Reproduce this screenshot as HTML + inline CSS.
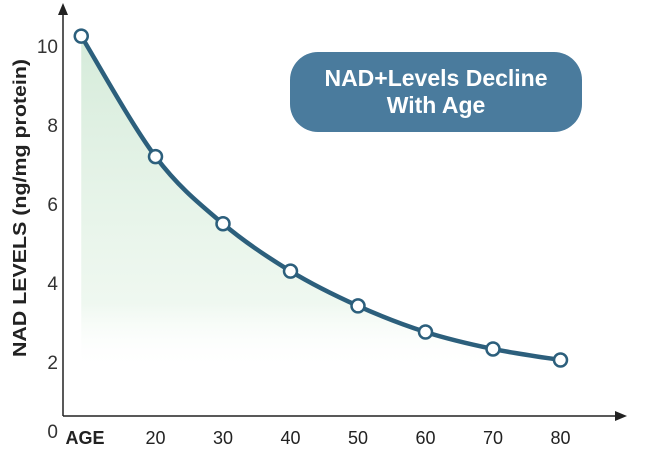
<!DOCTYPE html>
<html><head><meta charset="utf-8"><style>
body{margin:0;background:#fff;}
svg{display:block;font-family:"Liberation Sans",sans-serif;}
</style></head><body>
<svg id="c" width="650" height="458" viewBox="0 0 650 458">
<defs>
<linearGradient id="g" x1="0" y1="0" x2="0" y2="1">
<stop offset="0" stop-color="#d3ead8" stop-opacity="0.95"/>
<stop offset="0.8" stop-color="#e4f3e6" stop-opacity="0.6"/>
<stop offset="1" stop-color="#ffffff" stop-opacity="0"/>
</linearGradient>
</defs>
<path id="area" fill="url(#g)"/>
<line x1="63" y1="416" x2="63" y2="12" stroke="#222" stroke-width="1.5"/>
<polygon points="63,3 58,15 68,15" fill="#222"/>
<line x1="63" y1="416" x2="618" y2="416" stroke="#222" stroke-width="1.5"/>
<polygon points="627,416 615,411 615,421" fill="#222"/>
<text x="26" y="208" transform="rotate(-90 26 208)" text-anchor="middle" font-size="18" font-weight="bold" fill="#222" textLength="298" lengthAdjust="spacingAndGlyphs">NAD LEVELS (ng/mg protein)</text>
<g id="yt"></g><g id="xt"></g>
<path id="line" fill="none" stroke="#2c5f7c" stroke-width="4.5"/>
<g id="pts"></g>
<rect x="290" y="52" width="292" height="80" rx="28" fill="#4a7b9d"/>
<text x="436" y="86" text-anchor="middle" font-size="23" font-weight="bold" fill="#fff">NAD+Levels Decline</text>
<text x="436" y="113" text-anchor="middle" font-size="23" font-weight="bold" fill="#fff">With Age</text>
</svg>
<script>
const ages=[9,20,30,40,50,60,70,80];
const nadLevels=[10.25,7.2,5.5,4.3,3.42,2.76,2.33,2.05];
const yTicks=[0,2,4,6,8,10];
const xTickLabels=["AGE","20","30","40","50","60","70","80"];
const xTickAges=[10,20,30,40,50,60,70,80];
const NS="http://www.w3.org/2000/svg";
function xs(a){return 88+(a-10)*6.75;}
function ys(v){return 441-39.5*v;}
const yt=document.getElementById('yt');
yTicks.forEach(v=>{
 const t=document.createElementNS(NS,'text');
 
 
 t.setAttribute('x',58);t.setAttribute('y',v===0?438:ys(v)+7);
 t.setAttribute('text-anchor','end');t.setAttribute('font-size','19');t.setAttribute('fill','#333');
 t.textContent=v;yt.appendChild(t);
});
const xt=document.getElementById('xt');
xTickLabels.forEach((l,i)=>{
 const t=document.createElementNS(NS,'text');
 
 
 const x=i===0?85:xs(xTickAges[i]);
 t.setAttribute('x',x);t.setAttribute('y',444);
 t.setAttribute('text-anchor','middle');t.setAttribute('font-size','18');
 if(i===0)t.setAttribute('font-weight','bold');
 t.setAttribute('fill','#222');t.textContent=l;xt.appendChild(t);
});
const P=ages.map((a,i)=>[xs(a),ys(nadLevels[i])]);
let d='M'+P[0][0]+','+P[0][1];
for(let i=0;i<P.length-1;i++){
 const p0=P[i-1]||P[i],p1=P[i],p2=P[i+1],p3=P[i+2]||P[i+1];
 d+=' C'+(p1[0]+(p2[0]-p0[0])/6)+','+(p1[1]+(p2[1]-p0[1])/6)+' '+(p2[0]-(p3[0]-p1[0])/6)+','+(p2[1]-(p3[1]-p1[1])/6)+' '+p2[0]+','+p2[1];
}
document.getElementById('line').setAttribute('d',d);
document.getElementById('area').setAttribute('d',d+' L'+P[P.length-1][0]+',370 L'+P[0][0]+',370 Z');
const pts=document.getElementById('pts');
P.forEach(p=>{
 const c=document.createElementNS(NS,'circle');
 
 
 c.setAttribute('cx',p[0]);c.setAttribute('cy',p[1]);c.setAttribute('r',6.5);
 c.setAttribute('fill','#fff');c.setAttribute('stroke','#2c5f7c');c.setAttribute('stroke-width','2.5');
 pts.appendChild(c);
});
</script>
</body></html>
